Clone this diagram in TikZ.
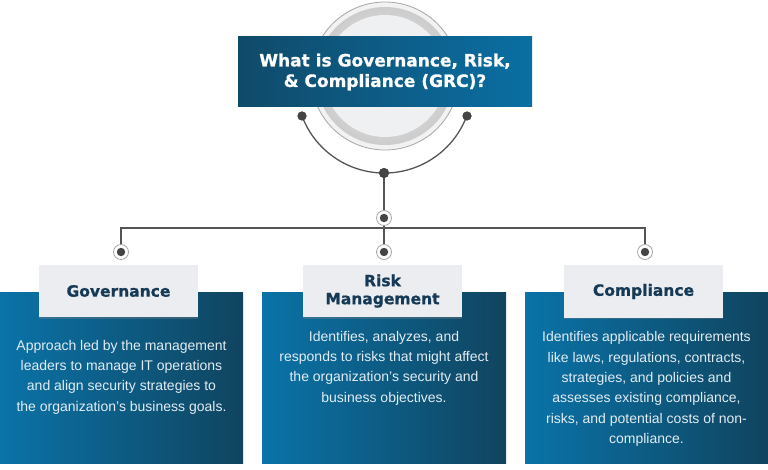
\documentclass[tikz,border=0pt]{standalone}
\usepackage{fontspec}
\setmainfont{Liberation Sans}
\newfontfamily\hfont{DejaVu Sans Bold}[FakeBold=0.9]
\usetikzlibrary{shadows}
\definecolor{navy}{HTML}{163A55}
\definecolor{bodytxt}{HTML}{E2ECF2}
\definecolor{linec}{HTML}{555555}
\definecolor{dotc}{HTML}{444444}
\definecolor{HTMLleft}{HTML}{0A73A8}
\definecolor{HTMLright}{HTML}{10445F}
\definecolor{HTMLlab}{HTML}{EBEDF0}
\definecolor{titL}{HTML}{104A69}
\definecolor{titR}{HTML}{0A6FA3}
\tikzset{
  x=1pt, y=-1pt,
  bigbox/.style={rectangle, minimum width=243pt, minimum height=171pt, inner sep=0pt,
    left color=HTMLleft, right color=HTMLright},
  labbox/.style={rectangle, fill=HTMLlab, minimum width=159pt, minimum height=52pt, inner sep=0pt,
    align=center, text=navy, font=\hfont\fontsize{15.5}{18}\selectfont,
    drop shadow={shadow xshift=0pt, shadow yshift=-1.5pt, opacity=0.35}},
  bodytext/.style={align=center, text=bodytxt, font=\fontsize{14}{20.3}\selectfont, inner sep=0pt},
  marker/.style={circle, draw=gray!70, line width=0.8pt, fill=white, minimum size=15pt, inner sep=0pt},
  bigdot/.style={circle, fill=dotc, minimum size=10pt, inner sep=0pt},
  conn/.style={draw=linec, line width=1.3pt},
}
\begin{document}
\begin{tikzpicture}
\useasboundingbox (0,0) rectangle (768,470);
\fill[white] (0,0) rectangle (768,470);
% big grey circle
\fill[gray!10] (385,76) circle (74);
\draw[gray!70, line width=0.8pt] (385,76) circle (74);
\shade[inner color=gray!10, outer color=gray!40] (385,76) circle (69);
\fill[HTMLlab!85!white] (385,76) circle (61);
% arc
\node[bigdot, minimum size=9pt] (dl) at (302,116) {};
\node[bigdot, minimum size=9pt] (dr) at (467,116) {};
\node[bigdot] (dc) at (384,173) {};
\draw[conn] (dl.center) arc[start angle=159.4, end angle=20.6, radius=88];
\node[bigdot, minimum size=9pt] at (dl) {};
\node[bigdot, minimum size=9pt] at (dr) {};
\node[bigdot] at (dc) {};
% title
\node[rectangle, minimum width=294pt, minimum height=70pt, inner sep=0pt,
  left color=titL, right color=titR, text=white, align=center,
  font=\hfont\fontsize{17}{20.5}\selectfont] (title) at (385,72)
  {What is Governance, Risk,\\ \& Compliance (GRC)?};
% connectors
\node[marker] (mc) at (384,218) {};
\coordinate (jl) at (121,228);
\coordinate (jc) at (384,228);
\coordinate (jr) at (645,228);
\node[marker] (m1) at (121,252) {};
\node[marker] (m2) at (384,252) {};
\node[marker] (m3) at (645,252) {};
\draw[conn] (dc) -- (mc);
\draw[conn] (mc) -- (jc);
\draw[conn] (m1) -- (jl) -- (jr) -- (m3);
\draw[conn] (jc) -- (m2);
\foreach \m in {mc,m1,m2,m3} \fill[dotc] (\m) circle (4.2);
% boxes
\node[bigbox] (b1) at (121.5,377.5) {};
\node[bigbox, minimum width=244pt] (b2) at (384,377.5) {};
\node[bigbox] (b3) at (646.5,377.5) {};
\node[labbox] (l1) at (118.5,291) {Governance};
\node[labbox] (l2) at (382.5,291) {Risk\\Management};
\node[labbox] (l3) at (643.5,291.5) {Compliance};
\node[bodytext] (t1) at (121.5,377) {Approach led by the management\\leaders to manage IT operations\\and align security strategies to\\the organization's business goals.};
\node[bodytext] (t2) at (384,368) {Identifies, analyzes, and\\responds to risks that might affect\\the organization's security and\\business objectives.};
\node[bodytext] (t3) at (646.5,389) {Identifies applicable requirements\\like laws, regulations, contracts,\\strategies, and policies and\\assesses existing compliance,\\risks, and potential costs of non-\\compliance.};
\end{tikzpicture}
\end{document}
